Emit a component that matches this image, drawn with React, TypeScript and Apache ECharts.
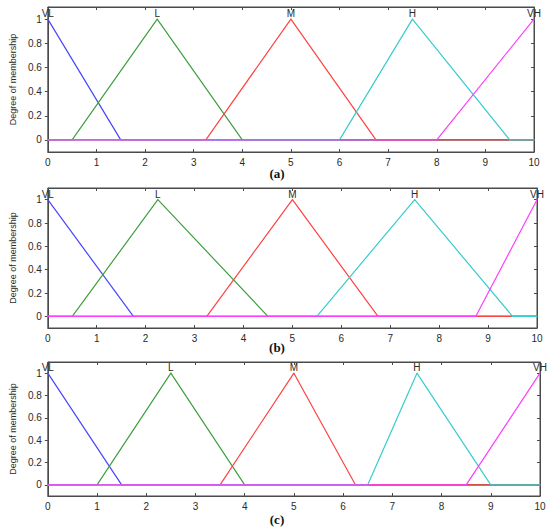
import React, { useEffect, useRef } from 'react';
import * as echarts from 'echarts';

// membership function labels and colours (MATLAB plotmf order)
const mfNames = ['VL', 'L', 'M', 'H', 'VH'];
const mfColors = ['#4646ff', '#3f9f3f', '#ff4242', '#38cccc', '#ff3cff'];

// triangle vertices [left foot, peak, right foot] per panel
const panelA = [
  [0, 0, 1.5],
  [0.5, 2.25, 4],
  [3.25, 5, 6.75],
  [6, 7.5, 9.5],
  [8, 10, 10],
];
const panelB = [
  [0, 0, 1.75],
  [0.5, 2.25, 4.5],
  [3.25, 5, 6.75],
  [5.5, 7.5, 9.5],
  [8.75, 10, 10],
];
const panelC = [
  [0, 0, 1.5],
  [1, 2.5, 4],
  [3.5, 5, 6.25],
  [6.5, 7.5, 9],
  [8.5, 10, 10],
];

const panels = [panelA, panelB, panelC];
const captions = ['(a)', '(b)', '(c)'];
const yTicks = [0, 0.2, 0.4, 0.6, 0.8, 1];
const xMin = 0;
const xMax = 10;

const grids = [
  { left: 44, right: 16, top: 7, height: 145 },
  { left: 37, right: 13, top: 188, height: 140 },
  { left: 36, right: 10, top: 362, height: 134 },
];
const nameGaps = [27, 27, 28];
const captionY = [173, 347, 519];

const frameColor = '#4a4a4a';
const textColor = '#2a2a2a';
const font = 'Liberation Sans, Arial, sans-serif';

const mfPoints = (tri: number[], idx: number) => {
  const [a, b, c] = tri;
  const peak = {
    value: [b, 1],
    label: {
      show: true,
      formatter: mfNames[idx],
      position: 'top',
      distance: 0,
      color: textColor,
      fontSize: 10,
      fontFamily: font,
    },
  };
  const pts: any[] = [];
  if (a > xMin) pts.push([xMin, 0], [a, 0]);
  pts.push(peak);
  if (c > b) pts.push([c, 0]);
  if (c < xMax) pts.push([xMax, 0]);
  return pts;
};

const App: React.FC = () => {
  const chartRef = useRef<HTMLDivElement>(null);

  useEffect(() => {
    if (!chartRef.current) return;
    const chart = echarts.init(chartRef.current, null, { renderer: 'svg' });

    const xAxis: any[] = [];
    const yAxis: any[] = [];
    const series: any[] = [];

    panels.forEach((panel, g) => {
      xAxis.push({
        type: 'value',
        gridIndex: g,
        min: xMin,
        max: xMax,
        interval: 1,
        position: 'bottom',
        splitLine: { show: false },
        axisLine: { onZero: false, lineStyle: { color: frameColor } },
        axisTick: { inside: true, length: 3, lineStyle: { color: frameColor } },
        axisLabel: { color: textColor, fontSize: 10, fontFamily: font, margin: 5 },
      });
      xAxis.push({
        type: 'value',
        gridIndex: g,
        min: xMin,
        max: xMax,
        interval: 1,
        position: 'top',
        splitLine: { show: false },
        axisLine: { onZero: false, lineStyle: { color: frameColor } },
        axisTick: { inside: true, length: 3, lineStyle: { color: frameColor } },
        axisLabel: { show: false },
      });
      yAxis.push({
        type: 'value',
        gridIndex: g,
        min: -0.1,
        max: 1.1,
        position: 'left',
        name: 'Degree of membership',
        nameLocation: 'middle',
        nameGap: nameGaps[g],
        nameRotate: 90,
        nameTextStyle: { color: textColor, fontSize: 9, fontFamily: font },
        splitLine: { show: false },
        axisLine: { onZero: false, lineStyle: { color: frameColor } },
        axisTick: { length: 3, customValues: yTicks, lineStyle: { color: frameColor } },
        axisLabel: {
          color: textColor,
          fontSize: 10,
          fontFamily: font,
          margin: 6,
          customValues: yTicks,
          formatter: (v: number) => String(Math.round(v * 10) / 10),
        },
      });
      yAxis.push({
        type: 'value',
        gridIndex: g,
        min: -0.1,
        max: 1.1,
        position: 'right',
        splitLine: { show: false },
        axisLine: { onZero: false, lineStyle: { color: frameColor } },
        axisTick: { inside: true, length: 3, customValues: yTicks, lineStyle: { color: frameColor } },
        axisLabel: { show: false },
      });

      panel.forEach((tri, i) => {
        series.push({
          type: 'line',
          xAxisIndex: g * 2,
          yAxisIndex: g * 2,
          data: mfPoints(tri, i),
          showSymbol: true,
          symbol: 'circle',
          symbolSize: 1,
          lineStyle: { color: mfColors[i], width: 1.2 },
          itemStyle: { color: mfColors[i] },
          z: 2 + i,
        });
      });
    });

    chart.setOption({
      animation: false,
      backgroundColor: '#fff',
      grid: grids.map((gr) => ({
        ...gr,
        show: true,
        borderColor: frameColor,
        borderWidth: 1,
        backgroundColor: 'transparent',
      })),
      xAxis,
      yAxis,
      series,
      graphic: captions.map((c, i) => ({
        type: 'text',
        x: 277,
        y: captionY[i],
        style: {
          text: c,
          fill: '#111',
          font: 'bold 13px "Liberation Serif", "Times New Roman", serif',
          textAlign: 'center',
          textVerticalAlign: 'middle',
        },
      })),
    });

    return () => {
      chart.dispose();
    };
  }, []);

  return (
    <div
      ref={chartRef}
      style={{ position: 'absolute', left: 0, top: 0, width: 550, height: 529 }}
    />
  );
};

export default App;
